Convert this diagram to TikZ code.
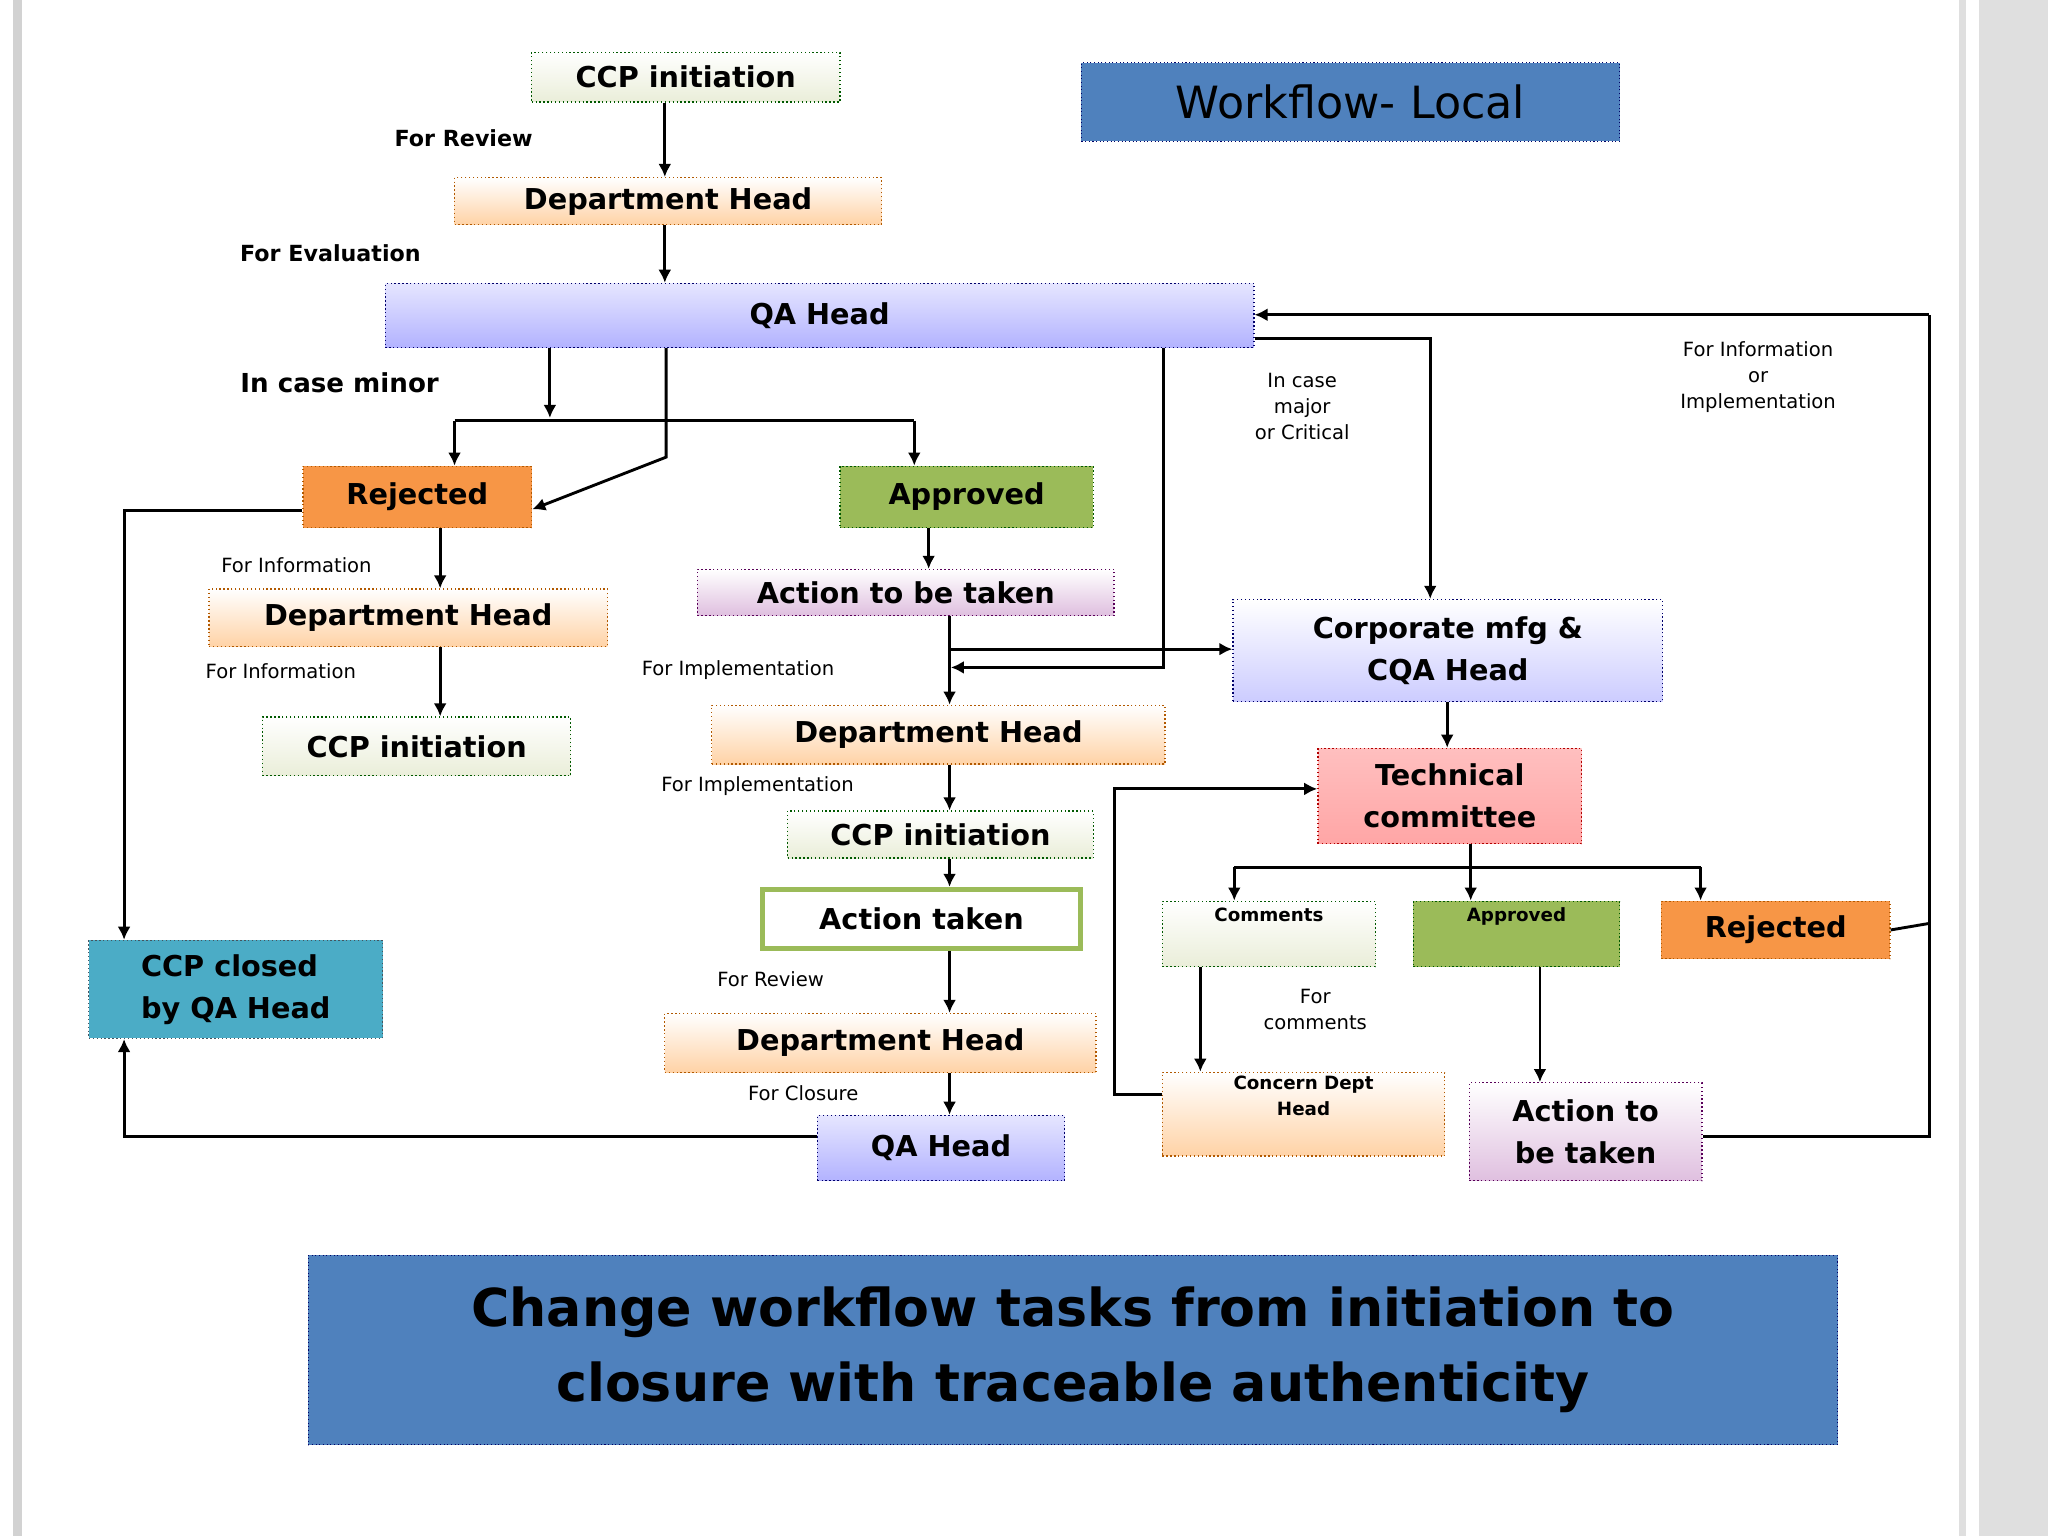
\documentclass[tikz,border=0pt]{standalone}
\usepackage{fontspec}
\setmainfont{DejaVu Sans}
\usetikzlibrary{arrows.meta}
\begin{document}
\begin{tikzpicture}[x=0.5pt,y=-0.5pt,
 box/.style={draw=#1!70!black,line width=0.5pt,densely dotted,inner sep=0pt,align=center,font=\bfseries\fontsize{11}{16}\selectfont},
 grn/.style={box=green!50!black,top color=white,bottom color=green!10!olive!15},
 pch/.style={box=orange,top color=white,bottom color=orange!35},
 blu/.style={box=blue!60!black,top color=blue!10,bottom color=blue!30},
 lav/.style={box=violet,top color=white,bottom color=violet!25},
 lbl/.style={font=\bfseries\fontsize{8.5}{10}\selectfont,align=center},
 sl/.style={font=\fontsize{7.5}{10}\selectfont,align=center},
 ln/.style={line width=1.1pt},
 ar/.style={ln,-{Latex[length=5pt,width=5pt]}}]
\useasboundingbox (0,0) rectangle (1568,1176);
\fill[gray!35] (10,0) rectangle (17,1176);
\fill[gray!25] (1500,0) rectangle (1568,1176);
\fill[white] (1505,0) rectangle (1515,1176);
\node[grn,minimum width=118pt,minimum height=19pt] (ccp1) at (525,59) {CCP initiation};
\node[pch,minimum width=163.5pt,minimum height=18pt] (dh1) at (511.5,154) {Department Head};
\node[blu,minimum width=332.5pt,minimum height=24.5pt] (qa1) at (627.5,241.5) {QA Head};
\node[fill={rgb,255:red,79;green,129;blue,189},draw=blue!40!black,densely dotted,minimum width=206pt,minimum height=30pt,font=\fontsize{17}{20}\selectfont] (title) at (1034,78) {Workflow- Local};
\node[box=orange,fill={rgb,255:red,247;green,150;blue,70},minimum width=87.5pt,minimum height=23.5pt] (rej1) at (319.5,380.5) {Rejected};
\node[box=green!50!black,fill={rgb,255:red,155;green,187;blue,89},minimum width=97pt,minimum height=23.5pt] (app1) at (740,380.5) {Approved};
\node[pch,minimum width=152.5pt,minimum height=22pt] (dh2) at (312.5,473) {Department Head};
\node[lav,minimum width=159.5pt,minimum height=17.5pt] (act1) at (693.5,453.5) {Action to be taken};
\node[grn,minimum width=118pt,minimum height=22.5pt] (ccp2) at (319,571.5) {CCP initiation};
\node[blu,top color=white,bottom color=blue!20,minimum width=164.5pt,minimum height=39pt] (corp) at (1108.5,498) {Corporate mfg \&\\CQA Head};
\node[pch,minimum width=173.5pt,minimum height=22.5pt] (dh3) at (718.5,562.5) {Department Head};
\node[box=red,top color=red!25,bottom color=red!35,minimum width=101pt,minimum height=36.5pt] (tech) at (1110,609.5) {Technical\\committee};
\node[grn,minimum width=117pt,minimum height=18pt] (ccp3) at (720,639) {CCP initiation};
\node[draw={rgb,255:red,155;green,187;blue,89},solid,line width=2pt,fill=white,inner sep=0pt,font=\bfseries\fontsize{11}{16}\selectfont,minimum width=121.5pt,minimum height=22.5pt] (acttaken) at (705.5,703.5) {Action taken};
\node[grn,font=\bfseries\fontsize{7}{9}\selectfont,minimum width=81.5pt,minimum height=25pt] (comm) at (971.5,715) {Comments\\[6pt]};
\node[box=green!50!black,fill={rgb,255:red,155;green,187;blue,89},font=\bfseries\fontsize{7}{9}\selectfont,minimum width=79pt,minimum height=25pt] (app2) at (1161,715) {Approved\\[6pt]};
\node[box=orange,fill={rgb,255:red,247;green,150;blue,70},minimum width=87.5pt,minimum height=22pt] (rej2) at (1359.5,712) {Rejected};
\node[box=cyan!40!black,fill={rgb,255:red,75;green,172;blue,198},align=left,minimum width=112.5pt,minimum height=37.5pt] (closed) at (180.5,757.5) {CCP closed\\by QA Head};
\node[pch,minimum width=165pt,minimum height=22.5pt] (dh4) at (674,798.5) {Department Head};
\node[blu,minimum width=94.5pt,minimum height=25pt] (qa2) at (720.5,879) {QA Head};
\node[pch,font=\bfseries\fontsize{7}{10}\selectfont,minimum width=108pt,minimum height=32pt] (concern) at (998,853) {Concern Dept\\Head\\[4pt]};
\node[lav,minimum width=89pt,minimum height=37.5pt] (act2) at (1214,866.5) {Action to\\be taken};
\node[fill={rgb,255:red,79;green,129;blue,189},draw=blue!40!black,densely dotted,minimum width=585.5pt,minimum height=72.5pt,align=center,font=\bfseries\fontsize{20}{29}\selectfont] (banner) at (821.5,1033.5) {Change workflow tasks from initiation to\\closure with traceable authenticity};
% labels
\node[lbl] at (355,106) {For Review};
\node[lbl] at (253,194) {For Evaluation};
\node[lbl,font=\bfseries\fontsize{10}{12}\selectfont] at (260,293) {In case minor};
\node[sl] at (997,311) {In case\\major\\or Critical};
\node[sl] at (1346,289) {For Information\\or\\Implementation};
\node[sl] at (227,433) {For Information};
\node[sl] at (215,514) {For Information};
\node[sl] at (565,513) {For Implementation};
\node[sl] at (580,602) {For Implementation};
\node[sl] at (590,750) {For Review};
\node[sl] at (615,837) {For Closure};
\node[sl] at (1007,773) {For\\comments};
% connectors
\draw[ar] (ccp1.south -| 509,0) -- (dh1.north -| 509,0);
\draw[ar] (dh1.south -| 509,0) -- (qa1.north -| 509,0);
\draw[ar] (qa1.south -| 421,0) -- (421,320);
\draw[ln] (348,322) -- (700,322);
\draw[ar] (348,322) -- (rej1.north -| 348,0);
\draw[ar] (700,322) -- (app1.north -| 700,0);
\draw[ar] (qa1.south -| 510,0) -- (510,350) -- (rej1.east |- 0,390);
\coordinate (m1) at (728,511);
\draw[ar] (qa1.south -| 891,0) -- (891,511) -- (m1);
\draw[ar] (qa1.east |- 0,259) -- (1095,259) -- (corp.north -| 1095,0);
\coordinate (r1) at (1477,241);
\draw[ar] (r1) -- (qa1.east |- r1);
\draw[ln] (r1) -- (1477,870) -- (act2.east |- 0,870);
\draw[ln] (rej2.east) -- (1477,707);
\draw[ar] (rej1.west |- 0,391) -- (95,391) -- (closed.north -| 95,0);
\draw[ar] (rej1.south -| 337,0) -- (dh2.north -| 337,0);
\draw[ar] (dh2.south -| 337,0) -- (ccp2.north -| 337,0);
\draw[ar] (app1.south -| 711,0) -- (act1.north -| 711,0);
\draw[ar] (act1.south -| 727,0) -- (dh3.north -| 727,0);
\draw[ar] (727,497) -- (corp.west |- 0,497);
\draw[ar] (dh3.south -| 727,0) -- (ccp3.north -| 727,0);
\draw[ar] (ccp3.south -| 727,0) -- (acttaken.north -| 727,0);
\draw[ar] (acttaken.south -| 727,0) -- (dh4.north -| 727,0);
\draw[ar] (dh4.south -| 727,0) -- (qa2.north -| 727,0);
\draw[ar] (qa2.west |- 0,870) -- (95,870) -- (closed.south -| 95,0);
\draw[ar] (corp.south -| 1108,0) -- (tech.north -| 1108,0);
\draw[ln] (tech.south -| 1126,0) -- (1126,664);
\draw[ln] (945,664) -- (1302,664);
\draw[ar] (945,664) -- (comm.north -| 945,0);
\draw[ar] (1126,664) -- (app2.north -| 1126,0);
\draw[ar] (1302,664) -- (rej2.north -| 1302,0);
\draw[ar] (comm.south -| 919,0) -- (concern.north -| 919,0);
\draw[ar] (app2.south -| 1179,0) -- (act2.north -| 1179,0);
\draw[ar] (concern.west |- 0,838) -- (853,838) -- (853,604) -- (tech.west |- 0,604);
\end{tikzpicture}
\end{document}
